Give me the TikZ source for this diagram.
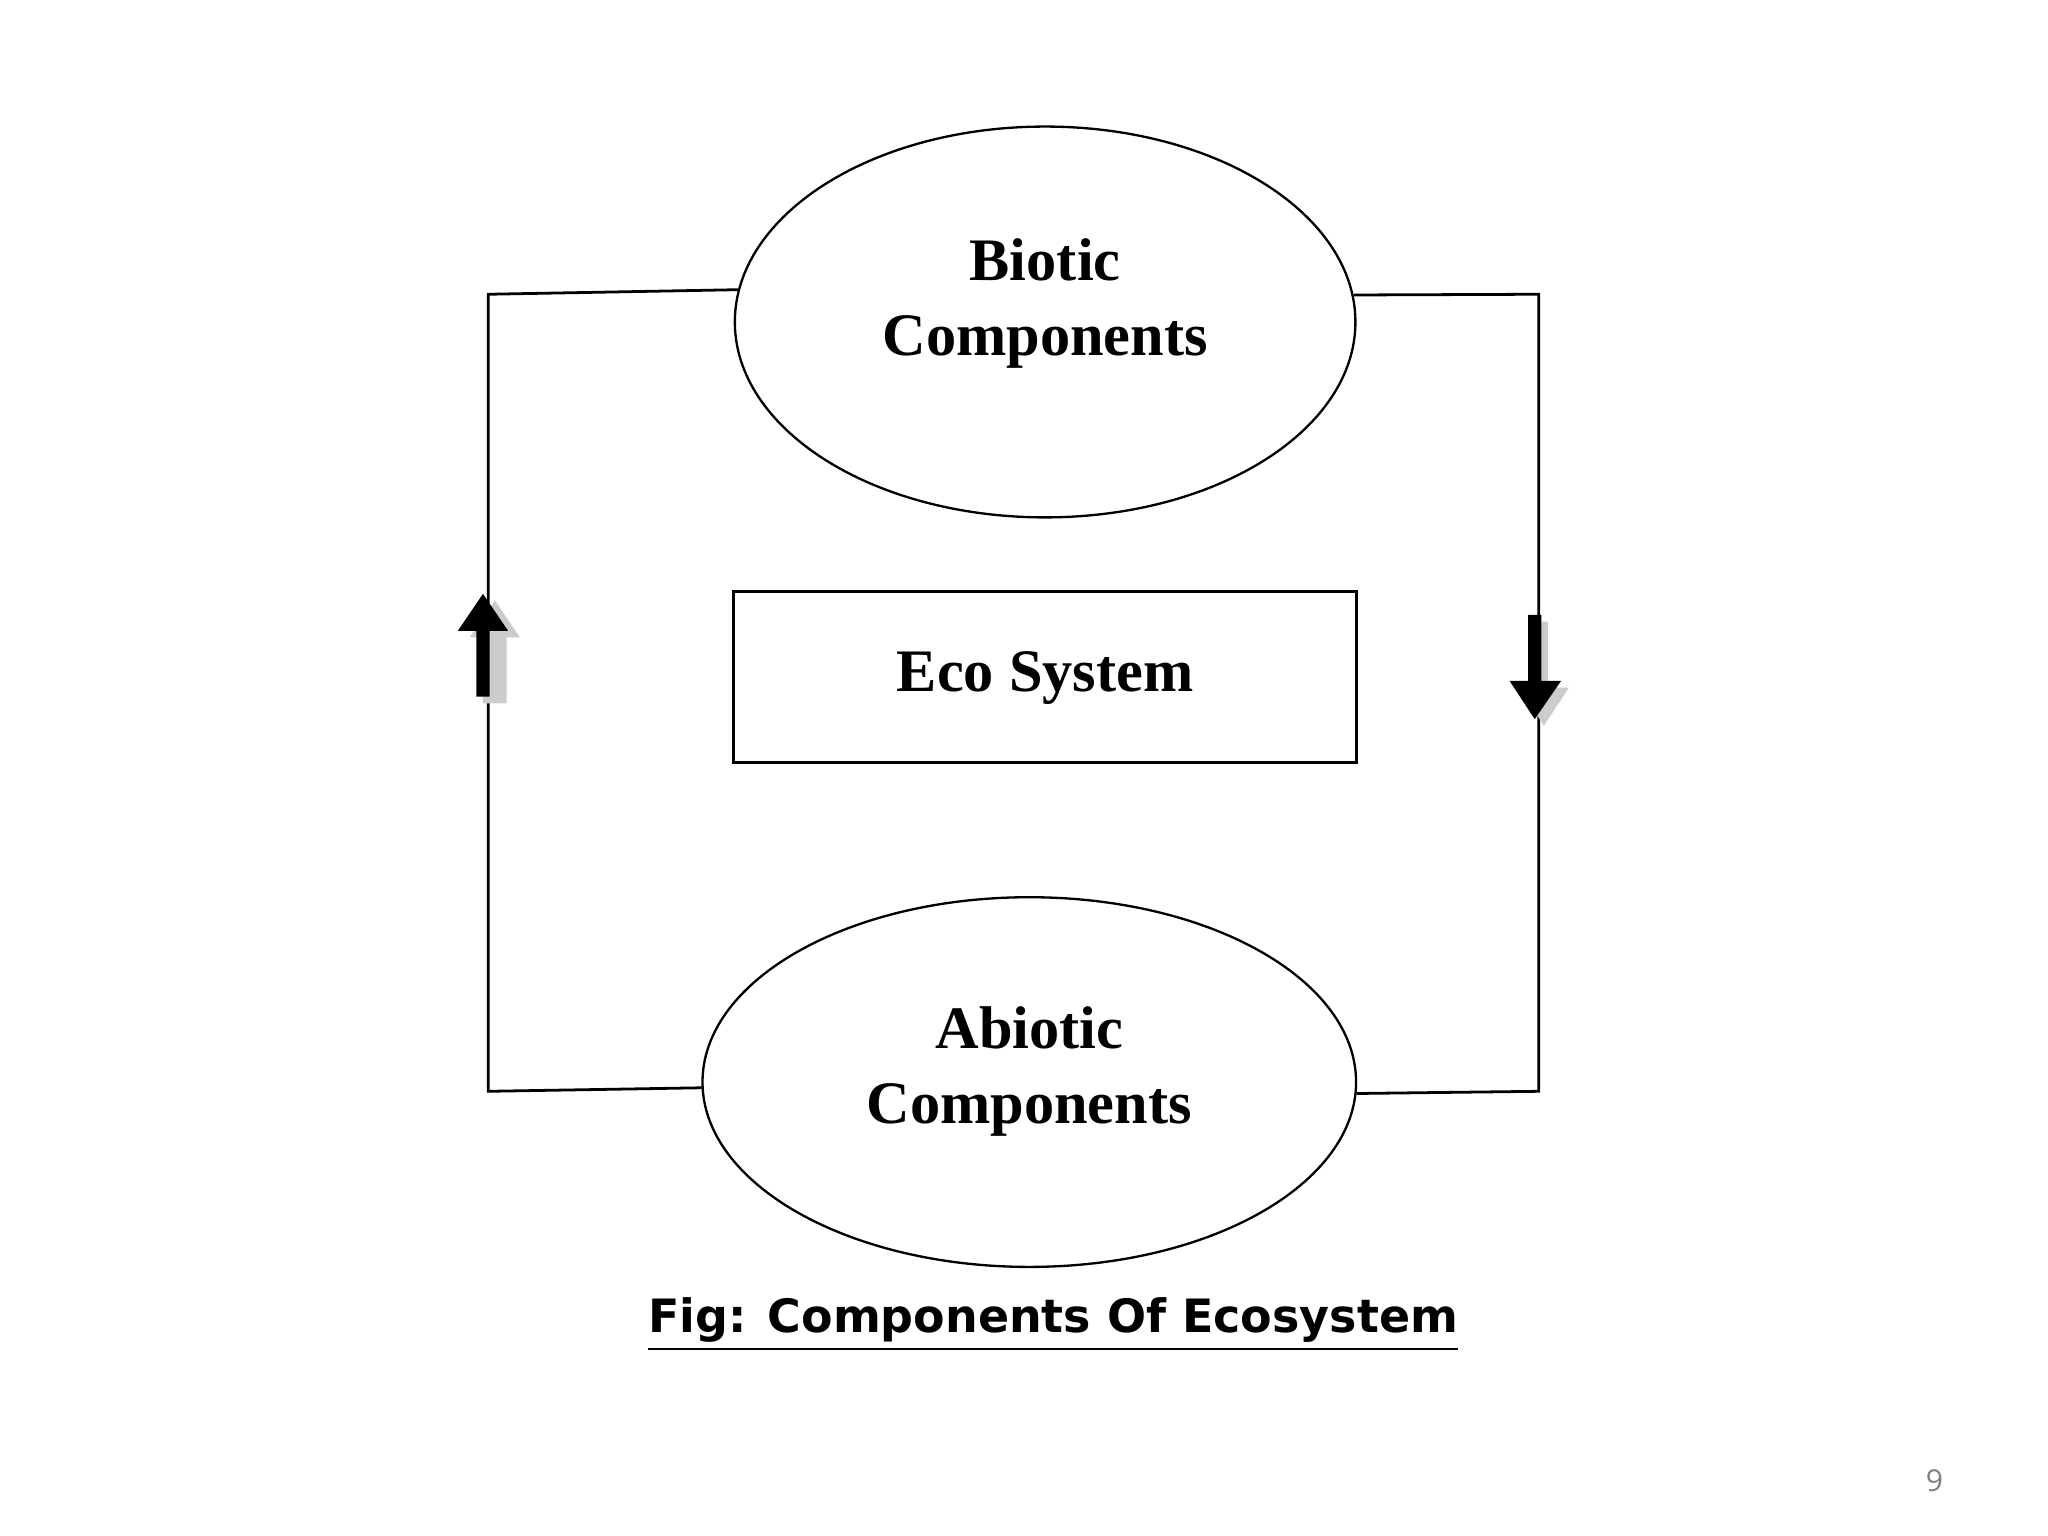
\documentclass[tikz,border=0pt]{standalone}
\usepackage{fontspec}
\setmainfont{Liberation Serif}
\newfontfamily\capfont{DejaVu Sans}
\newfontfamily\numfont{Open Sans}
\usetikzlibrary{shapes.geometric}
\begin{document}
\begin{tikzpicture}[x=0.01cm,y=-0.01cm,
  lbl/.style={font=\fontsize{13}{16}\selectfont\bfseries,align=center},
  ell/.style={draw,ellipse,line width=0.5pt,inner sep=0pt},
  conn/.style={draw,line width=0.6pt}]
\useasboundingbox (0,0) rectangle (1552,1164);
\node[ell,minimum width=4.70cm,minimum height=2.96cm] (bio) at (792,244) {};
\node[lbl] (biot) at (792,230) {Biotic\\Components};
\node[draw,line width=0.6pt,minimum width=4.72cm,minimum height=1.30cm] (eco) at (792,513) {};
\node[lbl] (ecot) at (792,514) {Eco System};
\node[ell,minimum width=4.95cm,minimum height=2.80cm] (abio) at (780,820) {};
\node[lbl] (abiot) at (780,812) {Abiotic\\Components};
\draw[conn] (bio.174.9) -- (370,223) -- (370,827) -- (abio.181.6);
\draw[conn] (bio.5.1) -- (1166,223) -- (1166,827) -- (abio.358.4);
% left up arrow
\fill[gray!40] (366,533) -- (366,483) -- (356,483) -- (375,455) -- (394,483) -- (384,483) -- (384,533) -- cycle;
\fill (361,528) -- (361,478) -- (347,478) -- (366,450) -- (385,478) -- (371,478) -- (371,528) -- cycle;
% right down arrow
\fill[gray!40] (1163,471) -- (1173,471) -- (1173,521) -- (1189,521) -- (1170,550) -- (1151,521) -- (1163,521) -- cycle;
\fill (1158,466) -- (1168,466) -- (1168,516) -- (1183,516) -- (1163,545) -- (1144,516) -- (1158,516) -- cycle;
\node[font=\capfont\fontsize{9.9}{12}\selectfont\bfseries] (cap) at (798,1004) {\underline{Fig: Components Of Ecosystem}};
\node[font=\numfont\fontsize{6.5}{8}\selectfont,text=gray] (num) at (1466,1122) {9};
\end{tikzpicture}
\end{document}
